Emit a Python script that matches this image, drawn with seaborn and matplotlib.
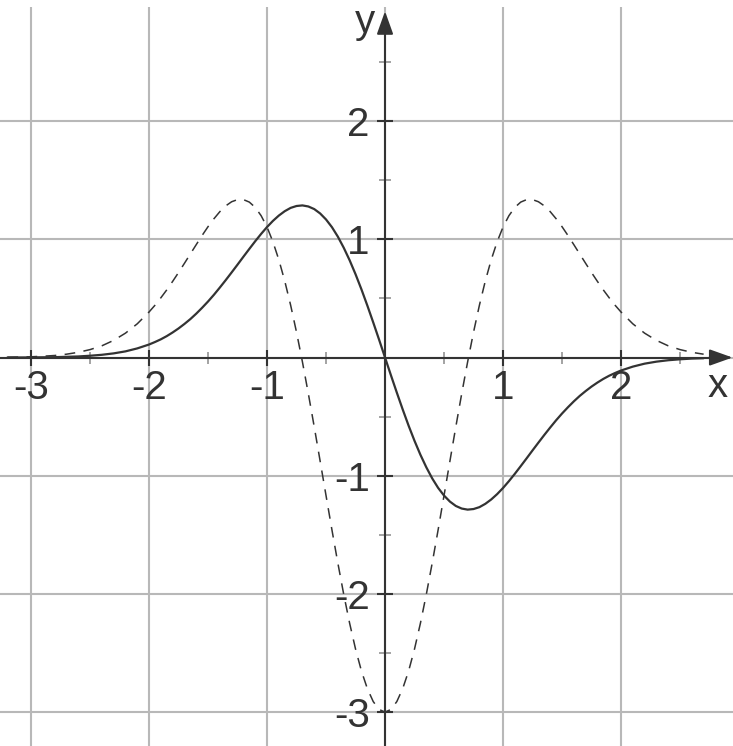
import numpy as np
import pandas as pd
import matplotlib
matplotlib.use("Agg")
import matplotlib.pyplot as plt
import seaborn as sns

# Curve values
x_vals = [-3.2, -3.0, -2.9, -2.8, -2.7, -2.6, -2.5, -2.4, -2.3, -2.2, -2.1,
          -2.0, -1.95, -1.9, -1.85, -1.8, -1.75, -1.7, -1.65, -1.6, -1.55,
          -1.5, -1.45, -1.4, -1.35, -1.3, -1.25, -1.2, -1.15, -1.1, -1.05,
          -1.0, -0.95, -0.9, -0.85, -0.8, -0.75, -0.7, -0.65, -0.6, -0.55,
          -0.5, -0.45, -0.4, -0.35, -0.3, -0.25, -0.2, -0.15, -0.1, -0.05,
          0.0, 0.05, 0.1, 0.15, 0.2, 0.25, 0.3, 0.35, 0.4, 0.45,
          0.5, 0.55, 0.6, 0.65, 0.7, 0.75, 0.8, 0.85, 0.9, 0.95,
          1.0, 1.05, 1.1, 1.15, 1.2, 1.25, 1.3, 1.35, 1.4, 1.45,
          1.5, 1.55, 1.6, 1.65, 1.7, 1.75, 1.8, 1.85, 1.9, 1.95,
          2.0, 2.1, 2.2, 2.3, 2.4, 2.5, 2.6, 2.7]

solid_vals = [0.000, 0.001, 0.002, 0.003, 0.006, 0.009, 0.015, 0.023, 0.035, 0.052, 0.077,
              0.110, 0.131, 0.154, 0.181, 0.212, 0.246, 0.284, 0.325, 0.371, 0.421,
              0.474, 0.531, 0.592, 0.655, 0.720, 0.786, 0.853, 0.919, 0.984, 1.046,
              1.104, 1.156, 1.201, 1.238, 1.266, 1.282, 1.287, 1.278, 1.256, 1.219,
              1.168, 1.103, 1.023, 0.929, 0.823, 0.705, 0.577, 0.440, 0.297, 0.150,
              0.000, -0.150, -0.297, -0.440, -0.577, -0.705, -0.823, -0.929, -1.023, -1.103,
              -1.168, -1.219, -1.256, -1.278, -1.287, -1.282, -1.266, -1.238, -1.201, -1.156,
              -1.104, -1.046, -0.984, -0.919, -0.853, -0.786, -0.720, -0.655, -0.592, -0.531,
              -0.474, -0.421, -0.371, -0.325, -0.284, -0.246, -0.212, -0.181, -0.154, -0.131,
              -0.110, -0.077, -0.052, -0.035, -0.023, -0.015, -0.009, -0.006]

dashed_vals = [0.002, 0.006, 0.011, 0.017, 0.028, 0.044, 0.067, 0.099, 0.145, 0.206, 0.285,
               0.385, 0.442, 0.505, 0.572, 0.644, 0.719, 0.797, 0.876, 0.955, 1.033,
               1.107, 1.174, 1.234, 1.283, 1.318, 1.336, 1.336, 1.315, 1.270, 1.200,
               1.104, 0.979, 0.827, 0.648, 0.443, 0.214, -0.037, -0.305, -0.586, -0.876,
               -1.168, -1.458, -1.738, -2.004, -2.248, -2.466, -2.652, -2.801, -2.911, -2.978,
               -3.000, -2.978, -2.911, -2.801, -2.652, -2.466, -2.248, -2.004, -1.738, -1.458,
               -1.168, -0.876, -0.586, -0.305, -0.037, 0.214, 0.443, 0.648, 0.827, 0.979,
               1.104, 1.200, 1.270, 1.315, 1.336, 1.336, 1.318, 1.283, 1.234, 1.174,
               1.107, 1.033, 0.955, 0.876, 0.797, 0.719, 0.644, 0.572, 0.505, 0.442,
               0.385, 0.285, 0.206, 0.145, 0.099, 0.067, 0.044, 0.028]

grid_x = [-3, -2, -1, 0, 1, 2]
grid_y = [-3, -2, -1, 0, 1, 2]
major_ticks = [-3, -2, -1, 1, 2]
minor_ticks = [-2.5, -1.5, -0.5, 0.5, 1.5, 2.5]

df = pd.DataFrame({"x": x_vals, "solid": solid_vals, "dashed": dashed_vals})

sns.set_theme(style="white")
plt.rcParams["font.family"] = ["Liberation Sans", "DejaVu Sans"]

ink = "#333333"
fig = plt.figure(figsize=(7.33, 7.46), dpi=100)
ax = fig.add_axes([0, 0, 1, 1])
ax.set_xlim(-3.263, 2.949)
ax.set_ylim(-3.287, 3.025)

# grid
ax.vlines(grid_x, -3.4, 2.97, color="#b8b8b8", lw=1.5, zorder=0)
ax.hlines(grid_y, -3.4, 3.0, color="#b8b8b8", lw=1.5, zorder=0)

# axes through origin
for side in ["top", "right"]:
    ax.spines[side].set_visible(False)
ax.spines["left"].set_position(("data", 0))
ax.spines["bottom"].set_position(("data", 0))
ax.spines["bottom"].set_bounds(-3.4, 2.85)
ax.spines["left"].set_bounds(-3.4, 2.85)
for side in ["left", "bottom"]:
    ax.spines[side].set_color(ink)
    ax.spines[side].set_linewidth(1.5)
    ax.spines[side].set_zorder(3)

ax.annotate("", xy=(2.945, 0), xytext=(2.75, 0),
            arrowprops=dict(arrowstyle="-|>,head_length=0.7,head_width=0.25",
                            color=ink, lw=1.5, mutation_scale=20, shrinkA=0, shrinkB=0))
ax.annotate("", xy=(0, 2.93), xytext=(0, 2.75),
            arrowprops=dict(arrowstyle="-|>,head_length=0.7,head_width=0.25",
                            color=ink, lw=1.5, mutation_scale=20, shrinkA=0, shrinkB=0))

ax.set_xticks(major_ticks)
ax.set_yticks(major_ticks)
ax.set_xticks(minor_ticks, minor=True)
ax.set_yticks(minor_ticks, minor=True)
ax.set_xticklabels([str(t) for t in major_ticks])
ax.set_yticklabels([str(t) for t in major_ticks])
ax.tick_params(which="major", direction="inout", length=12, width=1.5,
               color=ink, labelcolor=ink, labelsize=29)
ax.tick_params(axis="x", which="major", pad=2)
ax.tick_params(axis="y", which="major", pad=5)
ax.tick_params(which="minor", direction="inout", length=9, width=1.1, color="#8a8a8a")
ax.tick_params(bottom=True, left=True, which="both")

# curves
sns.lineplot(data=df, x="x", y="solid", color=ink, lw=1.6, ax=ax, zorder=4)
sns.lineplot(data=df, x="x", y="dashed", color=ink, lw=1.1, ax=ax, zorder=4)
ax.lines[-1].set_dashes([7, 5.5])

ax.set_xlabel("")
ax.set_ylabel("")
ax.text(2.822, -0.334, "x", fontsize=29, color=ink, ha="center", va="baseline")
ax.text(-0.17, 2.745, "y", fontsize=29, color=ink, ha="center", va="baseline")

fig.savefig("out.png", dpi=100)
